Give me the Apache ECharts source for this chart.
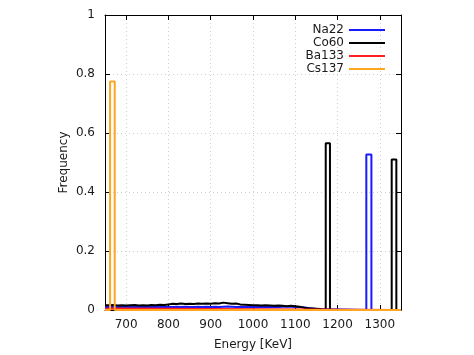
<!DOCTYPE html>
<html>
<head>
<meta charset="utf-8">
<script src="https://cdn.jsdelivr.net/npm/echarts@6/dist/echarts.min.js"></script>
<style>html,body{margin:0;padding:0;background:#fff}#c{width:474px;height:355px}</style>
</head>
<body>
<div id="c"></div>
<script>
// ---- data ----
const seriesNames = ['Na22', 'Co60', 'Ba133', 'Cs137'];
const seriesColors = ['#1a1aff', '#000000', '#ff2020', '#ffa520'];

// bin left edges (keV) and frequencies, last edge closes the histogram
const na22Energy = [650,660,670,680,690,700,710,720,730,740,750,760,770,780,790,800,810,820,830,840,850,860,870,880,890,900,910,920,930,940,950,960,970,980,990,1000,1010,1020,1030,1040,1050,1060,1070,1080,1090,1100,1110,1120,1130,1140,1150,1268,1280,1350];
const na22Freq   = [0.010,0.011,0.010,0.010,0.011,0.010,0.010,0.011,0.010,0.010,0.011,0.010,0.010,0.011,0.010,0.010,0.011,0.010,0.011,0.010,0.010,0.011,0.010,0.011,0.010,0.011,0.010,0.011,0.012,0.011,0.010,0.011,0.010,0.010,0.011,0.010,0.010,0.011,0.010,0.011,0.010,0.011,0.012,0.011,0.010,0.010,0.009,0.007,0.005,0.003,0.000,0.527,0.000,0.000];

const co60Energy = [650,660,670,680,690,700,710,720,730,740,750,760,770,780,790,800,810,820,830,840,850,860,870,880,890,900,910,920,930,940,950,960,970,980,990,1000,1010,1020,1030,1040,1050,1060,1070,1080,1090,1100,1110,1120,1130,1140,1150,1160,1172,1182,1328,1339,1350];
const co60Freq   = [0.016,0.017,0.015,0.016,0.015,0.016,0.017,0.015,0.016,0.015,0.017,0.016,0.018,0.017,0.019,0.021,0.020,0.022,0.020,0.021,0.020,0.022,0.021,0.022,0.021,0.023,0.022,0.025,0.023,0.021,0.022,0.019,0.018,0.017,0.016,0.016,0.015,0.016,0.015,0.014,0.015,0.014,0.013,0.014,0.013,0.011,0.008,0.006,0.005,0.004,0.003,0.000,0.565,0.000,0.510,0.000,0.000];

const ba133Energy = [650,662,673,1350];
const ba133Freq   = [0.004,0.005,0.000,0.000];

const cs137Energy = [650,662,673,1350];
const cs137Freq   = [0.000,0.775,0.000,0.000];

const xTicks = [700,800,900,1000,1100,1200,1300];
const yTicks = [0,0.2,0.4,0.6,0.8,1];

// ---- chart ----
function pairs(xs, ys){ return xs.map((x,i)=>[x, ys[i]]); }
const allData = [
  pairs(na22Energy, na22Freq),
  pairs(co60Energy, co60Freq),
  pairs(ba133Energy, ba133Freq),
  pairs(cs137Energy, cs137Freq)
];

const font = 'DejaVu Sans';
const txt = '#1a1a1a';
const fs = 12;
const grid = {left:105, right:73, top:15, bottom:45, outerBoundsMode:'none', containLabel:false};

const xBase = {
  type:'value', min:650, max:1350, splitNumber:7,
  axisLine:{show:true, onZero:false, lineStyle:{color:'#000', width:1}},
  axisTick:{show:true, inside:true, length:5, lineStyle:{color:'#000'}},
};
const yBase = {
  type:'value', min:0, max:1, interval:0.2,
  axisLine:{show:true, onZero:false, lineStyle:{color:'#000', width:1}},
  axisTick:{show:true, inside:true, length:5, lineStyle:{color:'#000'}},
};

const chart = echarts.init(document.getElementById('c'), null, {renderer:'canvas'});
chart.setOption({
  animation:false,
  backgroundColor:'#fff',
  grid: grid,
  legend:{
    orient:'vertical', right:84, top:19,
    align:'right', itemGap:1, itemWidth:36, itemHeight:12,
    icon:'path://M0,5 L36,5 L36,7 L0,7 Z',
    data: seriesNames.map((n,i)=>({name:n, itemStyle:{color:seriesColors[i]}})),
    textStyle:{fontFamily:font, fontSize:fs, color:txt, width:46, align:'right'},
  },
  xAxis:[
    Object.assign({}, xBase, {
      position:'bottom',
      name:'Energy [KeV]', nameLocation:'middle', nameGap:29, nameMoveOverlap:false,
      nameTextStyle:{fontFamily:font, fontSize:fs, color:txt},
      axisLabel:{fontFamily:font, fontSize:fs, color:txt, margin:9,
        formatter:v=> xTicks.indexOf(v) >= 0 ? String(v) : ''},
      splitLine:{show:true, lineStyle:{color:'#cfcfcf', type:[1,3], width:1}},
    }),
    Object.assign({}, xBase, {
      position:'top', axisLabel:{show:false}, splitLine:{show:false}
    })
  ],
  yAxis:[
    Object.assign({}, yBase, {
      position:'left',
      name:'Frequency', nameLocation:'middle', nameGap:35, nameMoveOverlap:false,
      nameTextStyle:{fontFamily:font, fontSize:fs, color:txt},
      axisLabel:{fontFamily:font, fontSize:fs, color:txt, margin:10,
        formatter:v=>{ const t = yTicks.find(y=>Math.abs(y-v)<1e-9); return t===undefined?'':String(+t.toFixed(1)); }},
      splitLine:{show:true, lineStyle:{color:'#cfcfcf', type:[1,3], width:1}},
    }),
    Object.assign({}, yBase, {
      position:'right', axisLabel:{show:false}, splitLine:{show:false}
    })
  ],
  series: seriesNames.map((n,i)=>({
    name:n, type:'line', step:'end', data:allData[i],
    xAxisIndex:0, yAxisIndex:0,
    showSymbol:false, symbol:'none',
    lineStyle:{color:seriesColors[i], width:2},
    itemStyle:{color:seriesColors[i]},
    clip:true
  }))
});
</script>
</body>
</html>
